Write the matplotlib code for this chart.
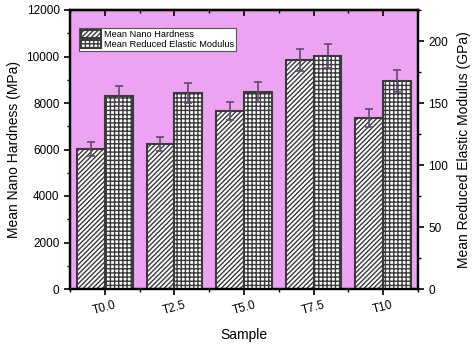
import matplotlib
matplotlib.use("Agg")
import matplotlib.pyplot as plt
import numpy as np
from matplotlib.ticker import MultipleLocator

plt.rcParams['font.family'] = ['Liberation Sans', 'DejaVu Sans']
plt.rcParams['hatch.linewidth'] = 1.0
plt.rcParams['hatch.color'] = '#222222'

samples = ["T0.0", "T2.5", "T5.0", "T7.5", "T10"]
hardness = [6020, 6230, 7650, 9850, 7350]
hardness_err = [300, 300, 380, 480, 380]
modulus = [155.5, 158, 159, 188, 168]
modulus_err = [8, 8, 8, 9.5, 9]

fig = plt.figure(figsize=(4.74, 3.45), dpi=100)
ax = fig.add_axes([70/474, 1-289/345, 348/474, 279/345])
ax2 = ax.twinx()
ax.set_facecolor('#EBA3F2')

x = np.arange(len(samples))
w = 0.4
edge = '#3a3a3a'
errc = '#5e4a6e'
b1 = ax.bar(x - w/2, hardness, w, color='white', edgecolor=edge, linewidth=1.5,
            hatch='///////', label='Mean Nano Hardness', zorder=2)
ax.errorbar(x - w/2, hardness, yerr=hardness_err, fmt='none', ecolor=errc,
            elinewidth=1.2, capsize=3, capthick=1.2, zorder=3)
b2 = ax2.bar(x + w/2, modulus, w, color='white', edgecolor=edge, linewidth=1.5,
             hatch='++++', label='Mean Reduced Elastic Modulus', zorder=2)
ax2.errorbar(x + w/2, modulus, yerr=modulus_err, fmt='none', ecolor=errc,
             elinewidth=1.2, capsize=3, capthick=1.2, zorder=3)

ax.set_xlim(-0.5, 4.5)
ax.set_ylim(0, 12000)
ax2.set_ylim(0, 225)
ax.set_xticks(x)
ax.set_xticklabels(samples, rotation=15, fontsize=8.5)
ax.xaxis.set_minor_locator(MultipleLocator(0.5))
ax.yaxis.set_major_locator(MultipleLocator(2000))
ax.yaxis.set_minor_locator(MultipleLocator(1000))
ax2.yaxis.set_major_locator(MultipleLocator(50))
ax2.yaxis.set_minor_locator(MultipleLocator(25))

ax.tick_params(axis='x', which='both', direction='out', labelsize=8.5)
ax.tick_params(axis='x', which='major', length=4, width=1.2)
ax.tick_params(axis='x', which='minor', length=2.5, width=1.0)
ax.tick_params(axis='y', which='major', direction='out', length=4, width=1.2, labelsize=8.5)
ax.tick_params(axis='y', which='minor', direction='out', length=2.5, width=1.0)
ax2.tick_params(axis='y', which='major', direction='out', length=4, width=1.2, labelsize=8.5)
ax2.tick_params(axis='y', which='minor', direction='out', length=2.5, width=1.0)

# top ticks pointing inward
top = ax.secondary_xaxis('top')
top.set_xticks(x)
top.xaxis.set_minor_locator(MultipleLocator(0.5))
top.tick_params(axis='x', which='major', direction='in', length=4, width=1.2, labeltop=False)
top.tick_params(axis='x', which='minor', direction='in', length=2.5, width=1.0)
top.spines['top'].set_linewidth(1.6)

for a in (ax, ax2):
    for s in a.spines.values():
        s.set_linewidth(1.6)
        s.set_color('black')

ax.set_ylabel('Mean Nano Hardness (MPa)', fontsize=10, labelpad=4)
ax2.set_ylabel('Mean Reduced Elastic Modulus (GPa)', fontsize=10, labelpad=6)
ax.set_xlabel('Sample', fontsize=10, labelpad=8)

leg = ax.legend([b1, b2], ['Mean Nano Hardness', 'Mean Reduced Elastic Modulus'],
                loc='upper left', bbox_to_anchor=(0.025, 0.935), fontsize=6.7,
                frameon=True, fancybox=False, framealpha=1, edgecolor='#555555',
                borderpad=0.2, handlelength=2.2, handleheight=1.0, labelspacing=0.08,
                handletextpad=0.3, borderaxespad=0)
leg.get_frame().set_linewidth(0.8)
leg.set_zorder(10)

fig.savefig('out.png', dpi=100)
